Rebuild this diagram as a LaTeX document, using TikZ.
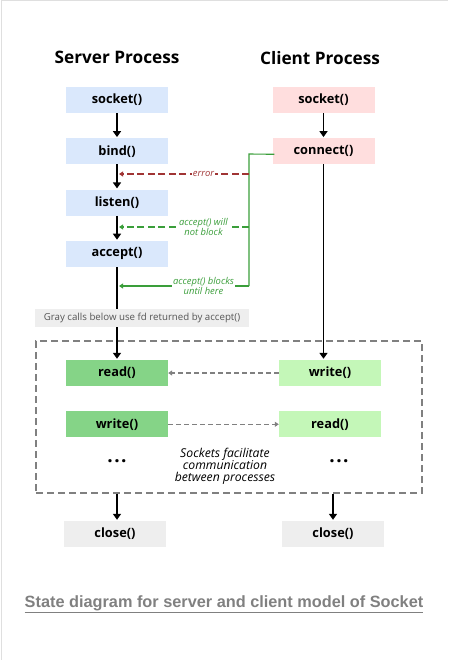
\documentclass[tikz,border=0pt]{standalone}
\usepackage{fontspec}
\setmainfont{Open Sans}
\newfontfamily\captionfont{Liberation Sans}
\usetikzlibrary{arrows.meta,positioning}

\definecolor{serverblue}{HTML}{DAE8FC}
\definecolor{clientpink}{HTML}{FFDEDE}
\definecolor{readgreen}{HTML}{85D487}
\definecolor{peergreen}{HTML}{C4F7B8}
\definecolor{callgray}{HTML}{EEEEEE}
\definecolor{errred}{HTML}{A03434}
\definecolor{linkgreen}{HTML}{3A9E3A}
\definecolor{notegray}{HTML}{555555}
\definecolor{captiongray}{HTML}{808080}

\tikzset{%
  % Specifications for style of arrows:
   flow/.style={
           -{Triangle[width=8pt,length=6pt]},
           line width=1.7pt,
           shorten >=1pt,},
   feedback/.style={
           -{Triangle[width=5pt,length=4pt]},
           line width=1.1pt,},
   errmap/.style={
           feedback,
           errred,
           dash pattern=on 7pt off 3.5pt},
   readymap/.style={
           feedback,
           linkgreen,
           dash pattern=on 7pt off 3.5pt},
   blockmap/.style={
           feedback,
           linkgreen},
   datamap/.style={
           feedback,
           gray,
           dash pattern=on 5pt off 3pt},
  % Specifications for style of nodes:
   base/.style = {rectangle, minimum width=102pt, minimum height=26pt,
                  text centered, font=\bfseries\fontsize{12.8}{14}\selectfont},
   server/.style = {base, fill=serverblue},
   client/.style = {base, fill=clientpink},
   reader/.style = {base, fill=readgreen},
   peer/.style = {base, fill=peergreen},
   closer/.style = {base, fill=callgray},
   heading/.style = {font=\bfseries\fontsize{17.2}{20}\selectfont},
   dots/.style = {font=\bfseries\fontsize{19}{20}\selectfont},
   feedlabel/.style = {fill=white, inner sep=1pt, align=center,
                  font=\itshape\fontsize{9.4}{9}\selectfont},
   note/.style = {rectangle, fill=callgray, text=notegray,
                  minimum width=214pt, minimum height=18pt,
                  font=\fontsize{9.7}{10}\selectfont},
   frame/.style = {rectangle, draw=gray, line width=1.2pt,
                  dash pattern=on 7pt off 4pt,
                  minimum width=386pt, minimum height=152pt},
}

\begin{document}
\begin{tikzpicture}[x=1pt, y=-1pt, node distance=51.3pt]

  \useasboundingbox (0,0) rectangle (448,660);
  \draw[gray!25, line width=1pt] (1,660) -- (1,0.5) -- (448,0.5);

  % Specification of nodes (position, etc.)
  \node (server_title) at (117,57) [heading] {Server Process};
  \node (client_title) at (320,58) [heading] {Client Process};

  \node (ssocket_block) at (117,100) [server] {socket()};
  \node (sbind_block)   [server, below of= ssocket_block] {bind()};
  \node (slisten_block) [server, below of= sbind_block]   {listen()};
  \node (saccept_block) [server, below of= slisten_block] {accept()};

  \node (csocket_block)  at (323.5,100) [client] {socket()};
  \node (cconnect_block) [client, below of= csocket_block] {connect()};

  \node (comm_frame) at (229,417) [frame] {};
  \node (sread_block)  at (117,373) [reader] {read()};
  \node (swrite_block) [reader, below of= sread_block] {write()};
  \node (cwrite_block) at (330,373) [peer] {write()};
  \node (cread_block)  [peer, below of= cwrite_block] {read()};
  \node (sdots) at (117,461) [dots] {.\hspace{1.5pt}.\hspace{1.5pt}.};
  \node (cdots) at (339,461) [dots] {.\hspace{1.5pt}.\hspace{1.5pt}.};
  \node (comm_text) at (225,466) [align=center, font=\itshape\fontsize{12.2}{12}\selectfont]
        {Sockets facilitate\\communication\\between processes};

  \node (sclose_block) at (115,534) [closer] {close()};
  \node (cclose_block) at (333,534) [closer] {close()};

  \coordinate (gtop) at (249,154);
  \coordinate (gbot) at (249,286);
  \coordinate (err_src) at (249,174);
  \coordinate (err_dst) at (119,174);
  \coordinate (ready_src) at (249,227);
  \coordinate (ready_dst) at (119,227);
  \coordinate (block_dst) at (119,286);

  % Call order
	\draw[flow]	(ssocket_block) -- (sbind_block);
	\draw[flow]	(sbind_block) -- (slisten_block);
	\draw[flow]	(slisten_block) -- (saccept_block);
	\draw[flow]	(saccept_block) -- (sread_block);
	\draw[flow]	(csocket_block) -- (cconnect_block);
	\draw[flow]	(cconnect_block.south) -- (cconnect_block.south |- cwrite_block.north);
	\draw[flow]	(comm_frame.south -| sread_block) -- (sread_block |- sclose_block.north);
	\draw[flow]	(comm_frame.south -| cclose_block) -- (cclose_block);

  % connect() feedback
	\draw[linkgreen, line width=1.1pt]	([xshift=2pt, yshift=-3pt]cconnect_block.west) -- (gtop) -- (gbot);
	\draw[errmap]	(err_src) -- node[feedlabel, pos=0.35, text=errred] {error} (err_dst);
	\draw[readymap]	(ready_src) -- node[feedlabel, pos=0.35, text=linkgreen] {accept() will\\not block} (ready_dst);
	\draw[blockmap]	(gbot) -- node[feedlabel, pos=0.35, text=linkgreen] {accept() blocks\\until here} (block_dst);

  % data exchange
	\draw[datamap]	(cwrite_block) -- (sread_block);
	\draw[datamap]	(swrite_block) -- (cread_block);

  \node (fd_note) at (142,318) [note] {Gray calls below use fd returned by accept()};

  \node (caption) at (224,604) [text=captiongray, font=\captionfont\bfseries\fontsize{16.3}{18}\selectfont]
        {\underline{State diagram for server and client model of Socket}};

\end{tikzpicture}
\end{document}
